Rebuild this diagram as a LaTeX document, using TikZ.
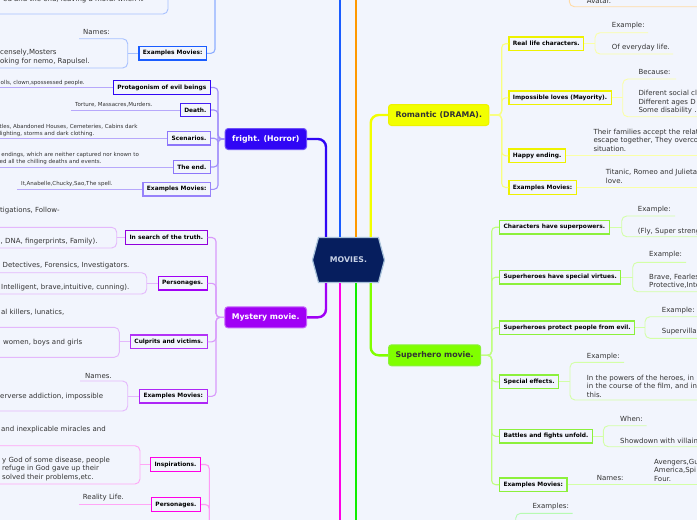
\documentclass[tikz,border=0pt]{standalone}
\usepackage{fontspec}
\setmainfont{DejaVu Sans}
\usetikzlibrary{shapes.symbols}
\definecolor{bg}{HTML}{F2F5FD}
\definecolor{txt}{HTML}{333333}
\definecolor{hub}{HTML}{061E5E}
\definecolor{hubline}{HTML}{A9C2DA}
\definecolor{hubtext}{HTML}{C8D2E6}
\definecolor{hcol}{HTML}{3006F5}
\definecolor{mcol}{HTML}{A000F5}
\definecolor{dcol}{HTML}{F2FF00}
\definecolor{dedge}{HTML}{EEF200}
\definecolor{scol}{HTML}{80FF00}
\definecolor{sedge}{HTML}{8CF03C}
\definecolor{pcol}{HTML}{FF00E6}
\definecolor{tcol}{HTML}{1A5CFF}
\definecolor{ocol}{HTML}{FF9900}
\definecolor{gcol}{HTML}{10EE00}

\begin{document}
\begin{tikzpicture}[x=1pt, y=-1pt,
    every node/.style={text=txt},
    cbox/.style={draw, line width=1.2pt, fill=bg, inner xsep=4pt, inner ysep=0pt, minimum height=13.5pt, text=black, font=\bfseries\fontsize{5.9}{7}\selectfont},
    mbox/.style={rounded corners=3pt, line width=1pt, inner xsep=7pt, minimum height=21pt, font=\bfseries\fontsize{7.8}{9}\selectfont},
    leaf/.style={inner sep=0pt, align=left, anchor=west, font=\fontsize{7}{8.4}\selectfont},
    small leaf/.style={leaf, font=\fontsize{5.5}{6.8}\selectfont},
    mline/.style={line width=2.4pt, rounded corners=8pt},
    bline/.style={line width=1.1pt, rounded corners=4pt},
    lline/.style={line width=0.9pt, rounded corners=5pt}
]
\useasboundingbox (0,0) rectangle (697,520);
\fill[bg] (0,0) rectangle (697,520);
\clip (0,0) rectangle (697,520);

\coordinate (ledge) at (-5,0);
\coordinate (redge) at (702,0);
\coordinate (topmain) at (340,-10);
\coordinate (orangemain) at (355.7,-10);
\coordinate (pinkmain) at (340,530);
\coordinate (greenmain) at (355.7,530);

\node[signal, signal to=west and east, signal pointer angle=150, fill=hub, draw=hubline, line width=1.2pt,
      minimum width=72pt, minimum height=45pt, inner sep=0pt, text=hubtext,
      font=\bfseries\fontsize{7.8}{9}\selectfont] (movies) at (348.5,260) {MOVIES.};
\node[mbox, fill=hcol, draw=hcol!70!white, text=white, anchor=east] (horror) at (307,139) {fright. (Horror)};
\node[mbox, fill=mcol, draw=mcol!60!white, text=white, anchor=east] (mystery) at (307,317.3) {Mystery movie.};
\node[mbox, fill=dcol, draw=dedge, anchor=west] (romantic) at (388,115) {Romantic (DRAMA).};
\node[mbox, fill=scol, draw=sedge, anchor=west] (superhero) at (388,355.3) {Superhero movie.};

\draw[mline, hcol] ([xshift=-22.5pt]movies.north) |- (horror.east);
\draw[mline, tcol] ([xshift=-8.5pt]movies.north) -- (topmain);
\draw[mline, ocol] ([xshift=7.2pt]movies.north) -- (orangemain);
\draw[mline, dcol] ([xshift=22.2pt]movies.north) |- (romantic.west);
\draw[mline, mcol] ([xshift=-22.5pt]movies.south) |- (mystery.east);
\draw[mline, pcol] ([xshift=-8.5pt]movies.south) -- (pinkmain);
\draw[mline, gcol] ([xshift=7.2pt]movies.south) -- (greenmain);
\draw[mline, scol] ([xshift=22.2pt]movies.south) |- (superhero.west);

\foreach \n/\y/\c/\t in {hprot/87.5/hcol/Protagonism of evil beings,hdeath/110/hcol!90!white/Death.,hscen/138.2/hcol!55!white/Scenarios.,hend/167/hcol!55!white/The end.,hex/189.3/hcol!50!white/Examples Movies:}
  \node[cbox, draw=\c, anchor=east] (\n) at (211,\y) {\t};
\foreach \n/\y/\c/\t in {msearch/237.5/mcol!90!black/In search of the truth.,mpers/283.3/mcol/Personages.,mculp/341.8/mcol!80!white/Culprits and victims.,mex/396.3/mcol!85!white/Examples Movies:}
  \node[cbox, draw=\c, anchor=east] (\n) at (207.7,\y) {\t};
\foreach \n/\y/\t in {pinsp/464.5/Inspirations.,ppers/504.5/Personages.}
  \node[cbox, draw=pcol, anchor=east] (\n) at (201,\y) {\t};
\node[cbox, draw=tcol, anchor=east] (tex) at (207,53.3) {Examples Movies:};
\foreach \n/\y/\t in {dreal/43.7/Real life characters.,dimp/97.8/Impossible loves (Mayority).,dhappy/155.8/Happy ending.,dex/187.5/Examples Movies:}
  \node[cbox, draw=dedge, anchor=west] (\n) at (508.3,\y) {\t};
\foreach \n/\y/\t in {schar/227.2/Characters have superpowers.,svirt/277.2/Superheroes have special virtues.,sprot/327.7/Superheroes protect people from evil.,sfx/381.8/Special effects.,sbat/436.3/Battles and fights unfold.,sex/484.7/Examples Movies:}
  \node[cbox, draw=sedge, anchor=west] (\n) at (499,\y) {\t};

\coordinate (hbr) at (218,139);
\coordinate (mbr) at (216,317.3);
\coordinate (dbr) at (501.7,115);
\coordinate (sbr) at (491.7,355.3);
\coordinate (pbr) at (209.3,530);
\coordinate (tbr) at (215,-10);
\foreach \n in {hprot,hdeath,hscen,hend,hex}
  \draw[bline, hcol!45!white] (horror.west) -- (hbr) |- (\n.east);
\foreach \n in {msearch,mpers,mculp,mex}
  \draw[bline, mcol!40!white] (mystery.west) -- (mbr) |- (\n.east);
\foreach \n in {dreal,dimp,dhappy,dex}
  \draw[bline, dcol!50!white] (romantic.east) -- (dbr) |- (\n.west);
\foreach \n in {schar,svirt,sprot,sfx,sbat,sex}
  \draw[bline, scol!50!white] (superhero.east) -- (sbr) |- (\n.west);
\foreach \n in {pinsp,ppers}
  \draw[bline, pcol!40!white] (\n.east) -| (pbr);
\draw[bline, tcol!50!white] (tex.east) -| (tbr);

\node[small leaf] (lprot) at (-3,83) {dolls, clown,spossessed people.};
\node[small leaf] (ldeath) at (75,104.3) {Torture, Massacres,Murders.};
\node[small leaf] (lscen) at (-0.5,130.3) {tles, Abandoned Houses, Cemeteries, Cabins dark\\ lighting, storms and dark clothing.};
\node[small leaf] (lend) at (-0.5,158.5) {\ endings, which are neither captured nor known to\\ed all the chilling deaths and events.};
\node[small leaf] (lhex) at (21,184) {It,Anabelle,Chucky,Sao,The spell.};
\draw[lline, hcol!35!white] (hprot.west) -- (hprot.west -| lprot.west);
\draw[lline, hcol!35!white] (hdeath.west) -- ([xshift=-4pt]hdeath.west -| ldeath.west);
\draw[lline, hcol!35!white] (hscen.west) -- (hscen.west -| ledge);
\draw[lline, hcol!35!white] (hend.west) -- (hend.west -| ledge);
\draw[lline, hcol!35!white] (hex.west) -- ([xshift=-4pt]hex.west -| lhex.west);

\node[leaf] (ltop) at (3,-0.5) {ed and the end, leaving a moral when it};
\draw[lline, tcol!38!white] (-5,14) -| (168,-12);
\node[leaf] (ltnames) at (83,31.7) {Names:};
\node[leaf] (ltex) at (0,57) {censely,Mosters\\oking for nemo, Rapulsel.};
\draw[lline, tcol!38!white] (79,38.7) -| (127.7,68) -- (-5,68);
\coordinate (ltexb) at (127.7,53.3);
\draw[lline, tcol!38!white] (ltexb) -- (tex.west);

\node[leaf] (lsearchq) at (0,211) {tigations, Follow-};
\node[leaf] (lsearch) at (0.5,241.7) {, DNA, fingerprints, Family).};
\draw[lline, mcol!28!white] (-5,227.3) -| (116.7,248) -- (-5,248);
\coordinate (lsearchb) at (116.7,237.5);
\draw[lline, mcol!28!white] (lsearchb) -- (msearch.west);
\node[leaf] (lpersq) at (2.5,266) {Detectives, Forensics, Investigators.};
\node[leaf] (lpers) at (1,287.7) {Intelligent, brave,intuitive, cunning).};
\draw[lline, mcol!28!white] (-5,272.7) -| (146.7,294) -- (-5,294);
\coordinate (lpersb) at (146.7,283.3);
\draw[lline, mcol!28!white] (lpersb) -- (mpers.west);
\node[leaf] (lculpq) at (1,312.3) {al killers, lunatics,};
\node[leaf] (lculp) at (3,342.3) {women, boys and girls};
\draw[lline, mcol!28!white] (-5,327.3) -| (119.3,357.3) -- (-5,357.3);
\coordinate (lculpb) at (119.3,341.8);
\draw[lline, mcol!28!white] (lculpb) -- (mculp.west);
\node[leaf] (lmexq) at (85,375.7) {Names.};
\node[leaf] (lmex) at (0,396.7) {erverse addiction, impossible};
\draw[lline, mcol!28!white] (80,381) -| (127.7,411) -- (-5,411);
\coordinate (lmexb) at (127.7,396.3);
\draw[lline, mcol!28!white] (lmexb) -- (mex.west);

\node[leaf] (linspq) at (1,430) {and inexplicable miracles and};
\node[leaf] (linsp) at (2,468.8) {y God of some disease, people\\ refuge in God gave up their\\ solved their problems,etc.};
\draw[lline, pcol!35!white] (-5,445.7) -| (140,484) -- (-5,484);
\coordinate (linspb) at (140,464.5);
\draw[lline, pcol!35!white] (linspb) -- (pinsp.west);
\node[leaf] (lppers) at (82.7,497.3) {Reality Life.};
\draw[lline, pcol!35!white] (ppers.west) -- ([xshift=-4pt]ppers.west -| lppers.west);

\node[leaf] (lavatar) at (586.7,1) {Avatar.};
\draw[lline, ocol!35!white] (569.3,-12) |- (702,6.7);

\node[leaf] (ldrealq) at (611.7,26) {Example:};
\node[leaf] (ldreal) at (611.7,47.3) {Of everyday life.};
\draw[lline, dcol!35!white] (648,32.7) -| (595,54) -- (673,54);
\coordinate (ldrealb) at (595,43.7);
\draw[lline, dcol!35!white] (dreal.east) -- (ldrealb);
\node[leaf] (ldimpq) at (638.3,72.3) {Because:};
\node[leaf] (ldimp) at (638.3,102.3) {Diferent social cl\\Different ages D\\Some disability .};
\draw[lline, dcol!35!white] (676,79) -| (622.7,116.7) -- (702,116.7);
\coordinate (ldimpb) at (622.7,97.8);
\draw[lline, dcol!35!white] (dimp.east) -- (ldimpb);
\node[leaf] (ldhappy) at (593.3,140) {Their families accept the relat\\escape together, They overco\\situation.};
\draw[lline, dcol!35!white] (dhappy.east) -- (dhappy.east -| redge);
\node[leaf] (ldex) at (605.7,176.5) {Titanic, Romeo and Julieta\\love.};
\draw[lline, dcol!35!white] (dex.east) -- (dex.east -| redge);

\node[leaf] (lscharq) at (637.7,209.3) {Example:};
\node[leaf] (lschar) at (637.7,231.7) {(Fly, Super streng};
\draw[lline, scol!35!white] (675,216) -| (621.7,236.7) -- (702,236.7);
\coordinate (lscharb) at (621.7,227.2);
\draw[lline, scol!35!white] (schar.east) -- (lscharb);
\node[leaf] (lsvirtq) at (649,255) {Example:};
\node[leaf] (lsvirt) at (649,281.2) {Brave, Fearles\\Protective,Inte};
\draw[lline, scol!35!white] (686,262.3) -| (632.7,291.7) -- (702,291.7);
\coordinate (lsvirtb) at (632.7,277.2);
\draw[lline, scol!35!white] (svirt.east) -- (lsvirtb);
\node[leaf] (lsprotq) at (661.7,310.7) {Example:};
\node[leaf] (lsprot) at (661.7,331.7) {Supervilla};
\draw[lline, scol!35!white] (702,316.7) -| (645,338.3) -- (702,338.3);
\coordinate (lsprotb) at (645,327.7);
\draw[lline, scol!35!white] (sprot.east) -- (lsprotb);
\node[leaf] (lsfxq) at (586.7,356.7) {Example:};
\node[leaf] (lsfx) at (586.7,386.3) {In the powers of the heroes, in\\in the course of the film, and in\\this.};
\draw[lline, scol!35!white] (624,362.3) -| (570,400) -- (702,400);
\coordinate (lsfxb) at (570,381.8);
\draw[lline, scol!35!white] (sfx.east) -- (lsfxb);
\node[leaf] (lsbatq) at (620,419.3) {When:};
\node[leaf] (lsbat) at (620,440.7) {Showdown with villain};
\draw[lline, scol!35!white] (646.7,425.7) -| (603.3,446.7) -- (702,446.7);
\coordinate (lsbatb) at (603.3,436.3);
\draw[lline, scol!35!white] (sbat.east) -- (lsbatb);
\node[leaf] (lsexq) at (596.7,478.3) {Names:};
\node[leaf] (lsex) at (654,470.3) {Avengers,Gu\\America,Spi\\Four.};
\draw[lline, scol!35!white] (sex.east) -- (sex.east -| redge);

\node[leaf] (lgreen) at (532.3,506.7) {Examples:};
\draw[lline, gcol!30!white] (572.7,513.3) -| (515.7,532);
\end{tikzpicture}
\end{document}
